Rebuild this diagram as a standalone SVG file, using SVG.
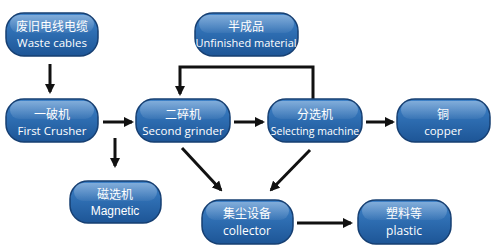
<svg xmlns="http://www.w3.org/2000/svg" width="500" height="250" viewBox="0 0 500 250">
<defs>
<linearGradient id="g" x1="0" y1="0" x2="0" y2="1">
<stop offset="0" stop-color="#3f82c8"/>
<stop offset="0.5" stop-color="#2d6cb0"/>
<stop offset="1" stop-color="#1d5596"/>
</linearGradient>
<linearGradient id="gl" x1="0" y1="0" x2="0" y2="1">
<stop offset="0" stop-color="#ffffff" stop-opacity="0.35"/>
<stop offset="1" stop-color="#ffffff" stop-opacity="0.05"/>
</linearGradient>
<marker id="ah" viewBox="0 0 10 10" refX="8" refY="5" markerWidth="3.4" markerHeight="3.4" orient="auto" markerUnits="strokeWidth">
<path d="M0,0 L10,5 L0,10 z" fill="#111"/>
</marker>
</defs>
<style>
.box{fill:url(#g);stroke:#163f72;stroke-width:1.5}
.gloss{fill:url(#gl)}
.cn{font-family:"Noto Sans CJK SC","Noto Sans",sans-serif;font-size:12px;fill:#fff;text-anchor:middle}
.en{font-family:"Open Sans","Liberation Sans",sans-serif;font-size:11.5px;fill:#fff;text-anchor:middle}
.ar{fill:none;stroke:#111;stroke-width:3;marker-end:url(#ah)}
</style>
<rect width="500" height="250" fill="#fff"/>
<g id="connectors">
<line class="ar" x1="50" y1="64" x2="50" y2="92"/>
<line class="ar" x1="103" y1="122" x2="132" y2="122"/>
<line class="ar" x1="234" y1="122" x2="263" y2="122"/>
<line class="ar" x1="366" y1="122" x2="393" y2="122"/>
<polyline class="ar" points="313,99 313,67 180,67 180,94"/>
<line class="ar" x1="115" y1="138" x2="115" y2="166"/>
<line class="ar" x1="182" y1="148" x2="221" y2="190"/>
<line class="ar" x1="310" y1="150" x2="271" y2="190"/>
<line class="ar" x1="297" y1="223" x2="351" y2="223"/>
</g>
<g id="n1"><rect class="box" x="6" y="13" width="92" height="43" rx="18"/><rect class="gloss" x="10" y="15" width="84" height="18" rx="9"/><text class="cn" x="52" y="31">废旧电线电缆</text><text class="en" x="52" y="47">Waste cables</text></g>
<g id="n2"><rect class="box" x="195" y="13" width="103" height="43" rx="18"/><rect class="gloss" x="199" y="15" width="95" height="18" rx="9"/><text class="cn" x="246" y="31">半成品</text><text class="en" x="246" y="47" style="font-size:11px">Unfinished material</text></g>
<g id="n3"><rect class="box" x="6" y="99" width="92" height="43" rx="18"/><rect class="gloss" x="10" y="101" width="84" height="18" rx="9"/><text class="cn" x="52" y="119">一破机</text><text class="en" x="52" y="135">First Crusher</text></g>
<g id="n4"><rect class="box" x="136" y="99" width="94" height="43" rx="18"/><rect class="gloss" x="140" y="101" width="86" height="18" rx="9"/><text class="cn" x="183" y="119">二碎机</text><text class="en" x="183" y="135">Second grinder</text></g>
<g id="n5"><rect class="box" x="268" y="99" width="94" height="43" rx="18"/><rect class="gloss" x="272" y="101" width="86" height="18" rx="9"/><text class="cn" x="315" y="119">分选机</text><text class="en" x="315" y="135" style="font-size:10.5px">Selecting machine</text></g>
<g id="n6"><rect class="box" x="397" y="99" width="93" height="43" rx="18"/><rect class="gloss" x="401" y="101" width="85" height="18" rx="9"/><text class="cn" x="443" y="119">铜</text><text class="en" x="443" y="135">copper</text></g>
<g id="n7"><rect class="box" x="70" y="181" width="91" height="42" rx="18"/><rect class="gloss" x="74" y="183" width="83" height="18" rx="9"/><text class="cn" x="115" y="199">磁选机</text><text class="en" x="115" y="215" style="font-family:'Liberation Sans',sans-serif;font-size:12px">Magnetic</text></g>
<g id="n8"><rect class="box" x="202" y="200" width="91" height="44" rx="18"/><rect class="gloss" x="206" y="202" width="83" height="18" rx="9"/><text class="cn" x="247" y="218">集尘设备</text><text class="en" x="247" y="235" style="font-size:12px">collector</text></g>
<g id="n9"><rect class="box" x="358" y="200" width="93" height="44" rx="18"/><rect class="gloss" x="362" y="202" width="85" height="18" rx="9"/><text class="cn" x="404" y="218">塑料等</text><text class="en" x="404" y="235" style="font-size:12px">plastic</text></g>
</svg>
